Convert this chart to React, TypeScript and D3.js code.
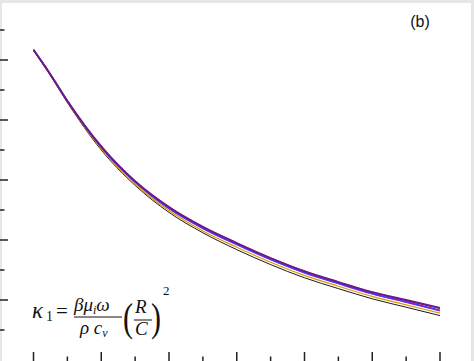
import React from "react";
import * as d3 from "d3";

// x in axis units (major ticks every 1), y in axis units (major ticks every 1)
const xValues = [0, 0.25, 0.5, 1, 1.5, 2, 2.5, 3, 3.5, 4, 4.5, 5, 5.5, 6];

const blackSeries = [5.16, 4.74, 4.29, 3.5, 2.91, 2.46, 2.12, 1.84, 1.59, 1.37, 1.19, 1.02, 0.88, 0.74];
const orangeSeries = [5.16, 4.75, 4.3, 3.52, 2.93, 2.49, 2.15, 1.88, 1.63, 1.41, 1.23, 1.06, 0.92, 0.78];
const magentaSeries = [5.17, 4.75, 4.31, 3.54, 2.96, 2.52, 2.19, 1.92, 1.67, 1.45, 1.27, 1.1, 0.96, 0.82];
const blueSeries = [5.17, 4.76, 4.31, 3.55, 2.97, 2.53, 2.2, 1.93, 1.68, 1.46, 1.28, 1.11, 0.97, 0.83];
const redSeries = [5.17, 4.76, 4.32, 3.56, 2.98, 2.55, 2.22, 1.95, 1.7, 1.48, 1.3, 1.13, 0.99, 0.86];
const purpleSeries = [5.17, 4.76, 4.32, 3.56, 2.98, 2.55, 2.22, 1.95, 1.7, 1.48, 1.3, 1.13, 1.0, 0.87];

const series = [
  { name: "black", values: blackSeries, color: "#1a1a1a", width: 1 },
  { name: "orange", values: orangeSeries, color: "#d89a00", width: 1.2 },
  { name: "magenta", values: magentaSeries, color: "#b020c0", width: 1.2 },
  { name: "blue", values: blueSeries, color: "#3a3aff", width: 1.6 },
  { name: "red", values: redSeries, color: "#c01010", width: 1.2 },
  { name: "purple", values: purpleSeries, color: "#6a1a8a", width: 1.8 },
];

const xMajor = [0, 1, 2, 3, 4, 5, 6];
const xMinor = [0.5, 1.5, 2.5, 3.5, 4.5, 5.5];
const yMajor = [1, 2, 3, 4, 5];
const yMinor = [0.5, 1.5, 2.5, 3.5, 4.5, 5.5];

const W = 474;
const H = 361;

const App: React.FC = () => {
  const x = d3.scaleLinear().domain([0, 6]).range([33.5, 440]);
  const y = d3.scaleLinear().domain([0, 6]).range([360, 0]);

  const line = d3
    .line<number>()
    .x((_, i) => x(xValues[i]))
    .y((d) => y(d))
    .curve(d3.curveMonotoneX);

  const serif = "Liberation Serif, Times New Roman, serif";

  return (
    <svg
      width={W}
      height={H}
      style={{ position: "absolute", left: 0, top: 0, background: "#fff" }}
    >
      {/* light frame of the cropped figure */}
      <rect x={0} y={0} width={W} height={3} fill="#e6e6e6" />
      <rect x={0} y={0} width={2} height={H} fill="#e6e6e6" />
      <rect x={471} y={0} width={3} height={H} fill="#e6e6e6" />

      {/* left ticks */}
      {yMajor.map((t) => (
        <line key={"ym" + t} x1={0} x2={8} y1={y(t)} y2={y(t)} stroke="#222" strokeWidth={1.5} />
      ))}
      {yMinor.map((t) => (
        <line key={"yn" + t} x1={0} x2={4.5} y1={y(t)} y2={y(t)} stroke="#222" strokeWidth={1.5} />
      ))}

      {/* bottom ticks */}
      {xMajor.map((t) => (
        <line key={"xm" + t} x1={x(t)} x2={x(t)} y1={H} y2={352} stroke="#222" strokeWidth={1.5} />
      ))}
      {xMinor.map((t) => (
        <line key={"xn" + t} x1={x(t)} x2={x(t)} y1={H} y2={356.5} stroke="#222" strokeWidth={1.5} />
      ))}

      {/* curves */}
      {series.map((s) => (
        <path
          key={s.name}
          d={line(s.values) ?? ""}
          fill="none"
          stroke={s.color}
          strokeWidth={s.width}
        />
      ))}

      {/* panel label */}
      <text
        x={420}
        y={27}
        textAnchor="middle"
        fontFamily="Liberation Sans, Arial, sans-serif"
        fontSize={16}
        fill="#111"
      >
        (b)
      </text>

      {/* formula */}
      <g fontFamily={serif} fill="#111" fontStyle="italic">
        <text x={32} y={318} fontSize={23}>κ</text>
        <text x={46} y={321} fontSize={14} fontStyle="normal">1</text>
        <text x={56} y={318} fontSize={21} fontStyle="normal">=</text>
        <text x={74} y={311} fontSize={19}>
          βμ<tspan fontSize={12} dy={3}>i</tspan>
          <tspan dy={-3}>ω</tspan>
        </text>
        <line x1={74} x2={122} y1={317} y2={317} stroke="#111" strokeWidth={1} />
        <text x={80} y={334} fontSize={19}>
          ρ c<tspan fontSize={12} dy={3}>v</tspan>
        </text>
        <text
          x={0}
          y={0}
          fontSize={30}
          fontStyle="normal"
          transform="translate(123,331) scale(1,1.35)"
        >
          (
        </text>
        <text x={135} y={313} fontSize={19}>R</text>
        <line x1={134} x2={152} y1={320} y2={320} stroke="#111" strokeWidth={1} />
        <text x={135} y={335} fontSize={19}>C</text>
        <text
          x={0}
          y={0}
          fontSize={30}
          fontStyle="normal"
          transform="translate(151,331) scale(1,1.35)"
        >
          )
        </text>
        <text x={163} y={295} fontSize={13} fontStyle="normal">2</text>
      </g>
    </svg>
  );
};

export default App;
